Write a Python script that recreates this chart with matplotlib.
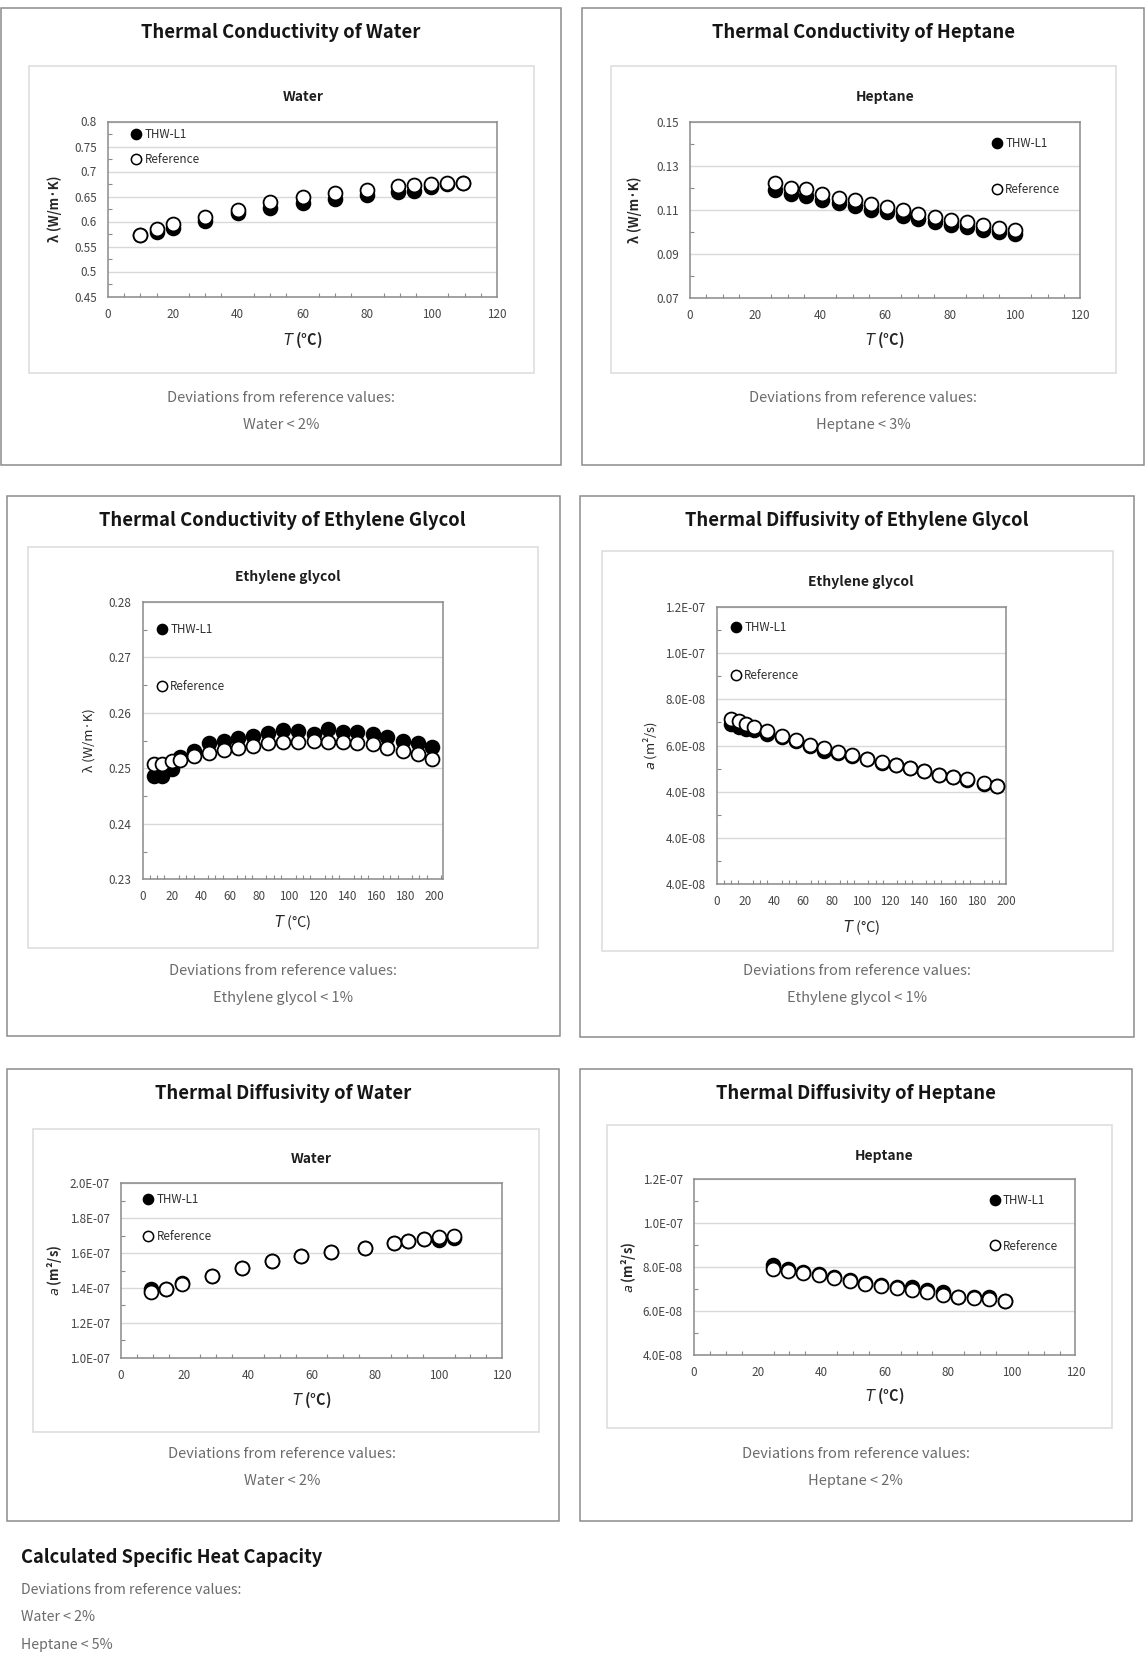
import numpy as np
import matplotlib
matplotlib.use("Agg")
import matplotlib.pyplot as plt
import matplotlib.ticker as ticker
from matplotlib.patches import Rectangle
from matplotlib.lines import Line2D

# ---- values ----
# thermal conductivity of water, W/m.K
water_k_T = [10, 15, 20, 30, 40, 50, 60, 70, 80, 89.5, 94.5, 99.5, 104.5, 109.5]
water_k_thw = [0.573, 0.579, 0.588, 0.602, 0.617, 0.628, 0.637, 0.645, 0.653, 0.660, 0.662, 0.670, 0.675, 0.677]
water_k_ref = [0.574, 0.585, 0.595, 0.609, 0.624, 0.640, 0.649, 0.657, 0.663, 0.671, 0.674, 0.675, 0.677, 0.678]
water_k_yticks = [0.45, 0.5, 0.55, 0.6, 0.65, 0.7, 0.75, 0.8]

# thermal conductivity of heptane
hept_k_T = [26, 31, 35.7, 40.7, 45.7, 50.7, 55.6, 60.6, 65.6, 70.3, 75.3, 80.2, 85.2, 90, 95, 100]
hept_k_thw = [0.1191, 0.1174, 0.1165, 0.1147, 0.1130, 0.1117, 0.1102, 0.1090,
              0.1074, 0.1059, 0.1046, 0.1032, 0.1023, 0.1010, 0.1000, 0.0990]
hept_k_ref = [0.1221, 0.1201, 0.1194, 0.1174, 0.1154, 0.1144, 0.1129, 0.1115,
              0.1100, 0.1083, 0.1070, 0.1055, 0.1047, 0.1031, 0.1020, 0.1009]
hept_k_yticks = [0.07, 0.09, 0.11, 0.13, 0.15]

# thermal conductivity of ethylene glycol
eg_k_T = [7.8, 13.5, 20, 25.8, 35.5, 45.8, 55.9, 65.8, 75.6, 85.8, 96.2, 106.9,
          117.4, 127.6, 137.3, 147.5, 158, 167.9, 178.6, 189.3, 198.5]
eg_k_thw = [0.2486, 0.2487, 0.2498, 0.2521, 0.2531, 0.2545, 0.2550, 0.2554, 0.2558, 0.2563, 0.2569,
            0.2568, 0.2561, 0.2570, 0.2566, 0.2565, 0.2562, 0.2556, 0.2550, 0.2545, 0.2538]
eg_k_ref = [0.2507, 0.2508, 0.2513, 0.2515, 0.2523, 0.2527, 0.2533, 0.2537, 0.2541, 0.2545, 0.2548,
            0.2547, 0.2549, 0.2548, 0.2547, 0.2546, 0.2543, 0.2537, 0.2531, 0.2525, 0.2516]
eg_k_yticks = [0.23, 0.24, 0.25, 0.26, 0.27, 0.28]

# thermal diffusivity of ethylene glycol, 1e-8 m2/s
eg_a_T = [10.1, 15.3, 20.6, 25.9, 35.2, 45.2, 54.8, 64.8, 74.6, 84.2, 93.7, 104.3,
          114.6, 124.1, 133.7, 143.5, 153.5, 163.6, 173.1, 184.7, 194.0]
eg_a_thw = [6.92, 6.80, 6.72, 6.66, 6.52, 6.37, 6.20, 5.99, 5.76, 5.68, 5.56, 5.42,
            5.25, 5.15, 5.01, 4.88, 4.72, 4.63, 4.52, 4.34, 4.24]
eg_a_ref = [7.13, 7.05, 6.93, 6.80, 6.61, 6.40, 6.23, 6.02, 5.90, 5.70, 5.58, 5.44,
            5.27, 5.17, 5.03, 4.90, 4.74, 4.65, 4.54, 4.36, 4.26]
eg_a_yticks = [0, 2, 4, 6, 8, 10, 12]
eg_a_yticklabels = ["4.0E-08", "4.0E-08", "4.0E-08", "6.0E-08", "8.0E-08", "1.0E-07", "1.2E-07"]

# thermal diffusivity of water, 1e-7 m2/s
water_a_T = [9.6, 14.3, 19.3, 28.6, 38.2, 47.4, 56.8, 66.1, 76.7, 85.9, 90.5, 95.3, 100.1, 104.7]
water_a_thw = [1.392, 1.396, 1.426, 1.468, 1.516, 1.556, 1.581, 1.604, 1.629, 1.658, 1.669, 1.679, 1.675, 1.684]
water_a_ref = [1.379, 1.396, 1.423, 1.468, 1.516, 1.556, 1.581, 1.604, 1.629, 1.658, 1.669, 1.679, 1.694, 1.700]
water_a_yticks = [1.0, 1.2, 1.4, 1.6, 1.8, 2.0]

# thermal diffusivity of heptane, 1e-8 m2/s
hept_a_T = [24.7, 29.6, 34.4, 39.3, 44.1, 49.1, 53.9, 58.8, 63.7, 68.6, 73.4, 78.3, 83.1, 88.0, 92.9, 97.7]
hept_a_thw = [8.10, 7.92, 7.80, 7.70, 7.57, 7.42, 7.29, 7.19, 7.11, 7.11, 6.96, 6.85, 6.66, 6.63, 6.63, 6.47]
hept_a_ref = [7.92, 7.84, 7.72, 7.63, 7.49, 7.37, 7.25, 7.16, 7.07, 6.96, 6.85, 6.75, 6.63, 6.61, 6.54, 6.44]
hept_a_yticks = [4, 6, 8, 10, 12]

W, H = 1145, 1655
AXC = "#8a8a8a"
CAP = "#6b6b6b"
plt.rcParams["font.family"] = ["Noto Sans CJK KR", "DejaVu Sans"]
plt.rcParams["mathtext.fontset"] = "dejavusans"

fig = plt.figure(figsize=(W / 100, H / 100), dpi=100)


def frame(x0, y0, x1, y1, color, lw=1.0):
    fig.add_artist(Rectangle((x0 / W, 1 - y1 / H), (x1 - x0) / W, (y1 - y0) / H,
                             transform=fig.transFigure, fill=False,
                             edgecolor=color, linewidth=lw))


def put(x, y, s, **kw):
    kw.setdefault("ha", "center")
    kw.setdefault("va", "center")
    fig.text(x / W, 1 - y / H, s, **kw)


def chart(box, xmax, yticks, ylabels, scale=1.0):
    x0, y0, x1, y1 = box
    ax = fig.add_axes([x0 / W, 1 - y1 / H, (x1 - x0) / W, (y1 - y0) / H])
    yt = np.array(yticks) * scale
    ax.set_xlim(0, xmax)
    ax.set_ylim(yt[0], yt[-1])
    ax.xaxis.set_major_locator(ticker.FixedLocator(np.arange(0, min(xmax, 200) + 1, 20)))
    ax.xaxis.set_minor_locator(ticker.AutoMinorLocator(4))
    ax.yaxis.set_major_locator(ticker.FixedLocator(yt))
    ax.yaxis.set_minor_locator(ticker.AutoMinorLocator(2))
    ax.yaxis.set_major_formatter(ticker.FixedFormatter(ylabels))
    ax.grid(axis="y", which="major", color="#d9d9d9", linewidth=1)
    ax.set_axisbelow(True)
    for s in ax.spines.values():
        s.set_color(AXC)
        s.set_linewidth(1.1)
    ax.tick_params(which="major", length=0, labelsize=8.4, labelcolor="#454545")
    ax.tick_params(axis="y", which="major", pad=8)
    ax.tick_params(axis="x", which="major", pad=8)
    ax.tick_params(which="minor", direction="in", length=3, color=AXC, width=0.8)
    return ax


def points(ax, T, thw, ref, scale=1.0):
    ax.plot(T, np.array(thw) * scale, ls="none", marker="o", ms=10,
            mfc="black", mec="black", mew=1.2, clip_on=False, zorder=3)
    ax.plot(T, np.array(ref) * scale, ls="none", marker="o", ms=10,
            mfc="white", mec="black", mew=1.3, clip_on=False, zorder=4)


def legend(ax, box, xf, yf1, yf2):
    fs = 8.4 * 100 / 72
    ax_w = box[2] - box[0]
    ax_h = box[3] - box[1]
    gap = (yf1 - yf2) * ax_h
    hs = [Line2D([], [], ls="none", marker="o", ms=7.4, mfc="black", mec="black"),
          Line2D([], [], ls="none", marker="o", ms=7.4, mfc="white", mec="black", mew=1.1)]
    ax.legend(hs, ["THW-L1", "Reference"], loc="center left",
              bbox_to_anchor=(xf - 0.4 * fs / ax_w, (yf1 + yf2) / 2),
              frameon=False, borderpad=0, borderaxespad=0, handlelength=0.8,
              handletextpad=0.3, labelspacing=gap / fs - 1, fontsize=8.4,
              labelcolor="#2e2e2e")


def panel(outer, title_xy, title, inner, ct_xy, ctitle, box, ylab_x, ylabel, bold,
          xlab_y, cap_x, cap_y, cap2):
    frame(*outer, color="#8c8c8c", lw=1.1)
    frame(*inner, color="#dedede", lw=1.2)
    put(title_xy[0], title_xy[1] + 2, title, fontsize=13.3, fontweight="bold", color="#151515")
    put(*ct_xy, ctitle, fontsize=10, fontweight="bold", color="#1e1e1e")
    put(ylab_x, (box[1] + box[3]) / 2, ylabel, rotation=90, fontsize=9.4,
        fontweight="bold" if bold else "normal", color="#262626")
    put((box[0] + box[2]) / 2, xlab_y, r"$T$ (°C)", fontsize=10.5,
        fontweight="bold" if bold else "normal", color="#262626")
    put(cap_x, cap_y + 1, "Deviations from reference values:", fontsize=10.5, color=CAP)
    put(cap_x, cap_y + 28, cap2, fontsize=10.5, color=CAP)


def g(v):
    return [f"{x:g}" for x in v]


def e(v, s):
    return [f"{x * s:.1E}" for x in v]


# panel 1: conductivity of water
b1 = (108, 121.5, 497, 296.5)
panel((0.5, 8.4, 560.5, 464.5), (281, 30.7), "Thermal Conductivity of Water",
      (29, 66, 534, 373), (303, 96.7), "Water", b1, 55, "λ (W/m·K)", True,
      340, 281, 396.7, "Water < 2%")
ax = chart(b1, 120, water_k_yticks, g(water_k_yticks))
points(ax, water_k_T, water_k_thw, water_k_ref)
legend(ax, b1, 0.073, 0.924, 0.785)

# panel 2: conductivity of heptane
b2 = (690, 121.7, 1080, 298.3)
panel((581.5, 8.4, 1143.5, 464.5), (863, 30.7), "Thermal Conductivity of Heptane",
      (610.5, 66, 1116, 373), (885, 97), "Heptane", b2, 635, "λ (W/m·K)", True,
      340, 863, 396.7, "Heptane < 3%")
ax = chart(b2, 120, hept_k_yticks, g(hept_k_yticks))
points(ax, hept_k_T, hept_k_thw, hept_k_ref)
legend(ax, b2, 0.787, 0.875, 0.622)

# panel 3: conductivity of ethylene glycol
b3 = (142.6, 601.8, 442.7, 879.3)
panel((6.5, 496.4, 559.5, 1036), (282.5, 518), "Thermal Conductivity of Ethylene Glycol",
      (28.4, 547, 538.4, 948), (287.4, 577.5), "Ethylene glycol", b3, 89,
      "λ (W/m·K)", False, 923, 283, 969.6, "Ethylene glycol < 1%")
ax = chart(b3, 206, eg_k_yticks, g(eg_k_yticks))
points(ax, eg_k_T, eg_k_thw, eg_k_ref)
legend(ax, b3, 0.065, 0.897, 0.698)

# panel 4: diffusivity of ethylene glycol
b4 = (716.5, 606.8, 1006, 884.3)
panel((580, 496.4, 1134, 1037), (856.6, 518), "Thermal Diffusivity of Ethylene Glycol",
      (601.6, 550.7, 1112.6, 950.7), (861.3, 582), "Ethylene glycol", b4, 649.6,
      r"$a$ (m²/s)", False, 928, 857, 969.6, "Ethylene glycol < 1%")
ax = chart(b4, 200, eg_a_yticks, eg_a_yticklabels, 1e-8)
points(ax, eg_a_T, eg_a_thw, eg_a_ref, 1e-8)
legend(ax, b4, 0.068, 0.924, 0.755)

# panel 5: diffusivity of water
b5 = (120.9, 1183.3, 502.2, 1357.7)
panel((7.4, 1069.3, 559.3, 1520.7), (282.7, 1091.7), "Thermal Diffusivity of Water",
      (33.4, 1129, 538.5, 1431.7), (311.5, 1159), "Water", b5, 54.5,
      r"$a$ (m²/s)", True, 1400, 282.5, 1453.3, "Water < 2%")
ax = chart(b5, 120, water_a_yticks, e(water_a_yticks, 1e-7), 1e-7)
points(ax, water_a_T, water_a_thw, water_a_ref, 1e-7)
legend(ax, b5, 0.072, 0.904, 0.70)

# panel 6: diffusivity of heptane
b6 = (694.1, 1179.3, 1075.4, 1355)
panel((580.4, 1069.3, 1131.6, 1520.7), (855.5, 1091.7), "Thermal Diffusivity of Heptane",
      (606.6, 1125, 1111.7, 1428.3), (884.4, 1155.7), "Heptane", b6, 628.4,
      r"$a$ (m²/s)", True, 1396, 855.7, 1453.3, "Heptane < 2%")
ax = chart(b6, 120, hept_a_yticks, e(hept_a_yticks, 1e-8), 1e-8)
points(ax, hept_a_T, hept_a_thw, hept_a_ref, 1e-8)
legend(ax, b6, 0.788, 0.875, 0.624)

# bottom text block
put(21, 1557.5, "Calculated Specific Heat Capacity", ha="left", fontsize=13.2,
    fontweight="bold", color="#151515")
put(21, 1589.5, "Deviations from reference values:", ha="left", fontsize=10.2, color=CAP)
put(21, 1617, "Water < 2%", ha="left", fontsize=10.2, color=CAP)
put(21, 1644.5, "Heptane < 5%", ha="left", fontsize=10.2, color=CAP)

fig.savefig("out.png", dpi=100)
